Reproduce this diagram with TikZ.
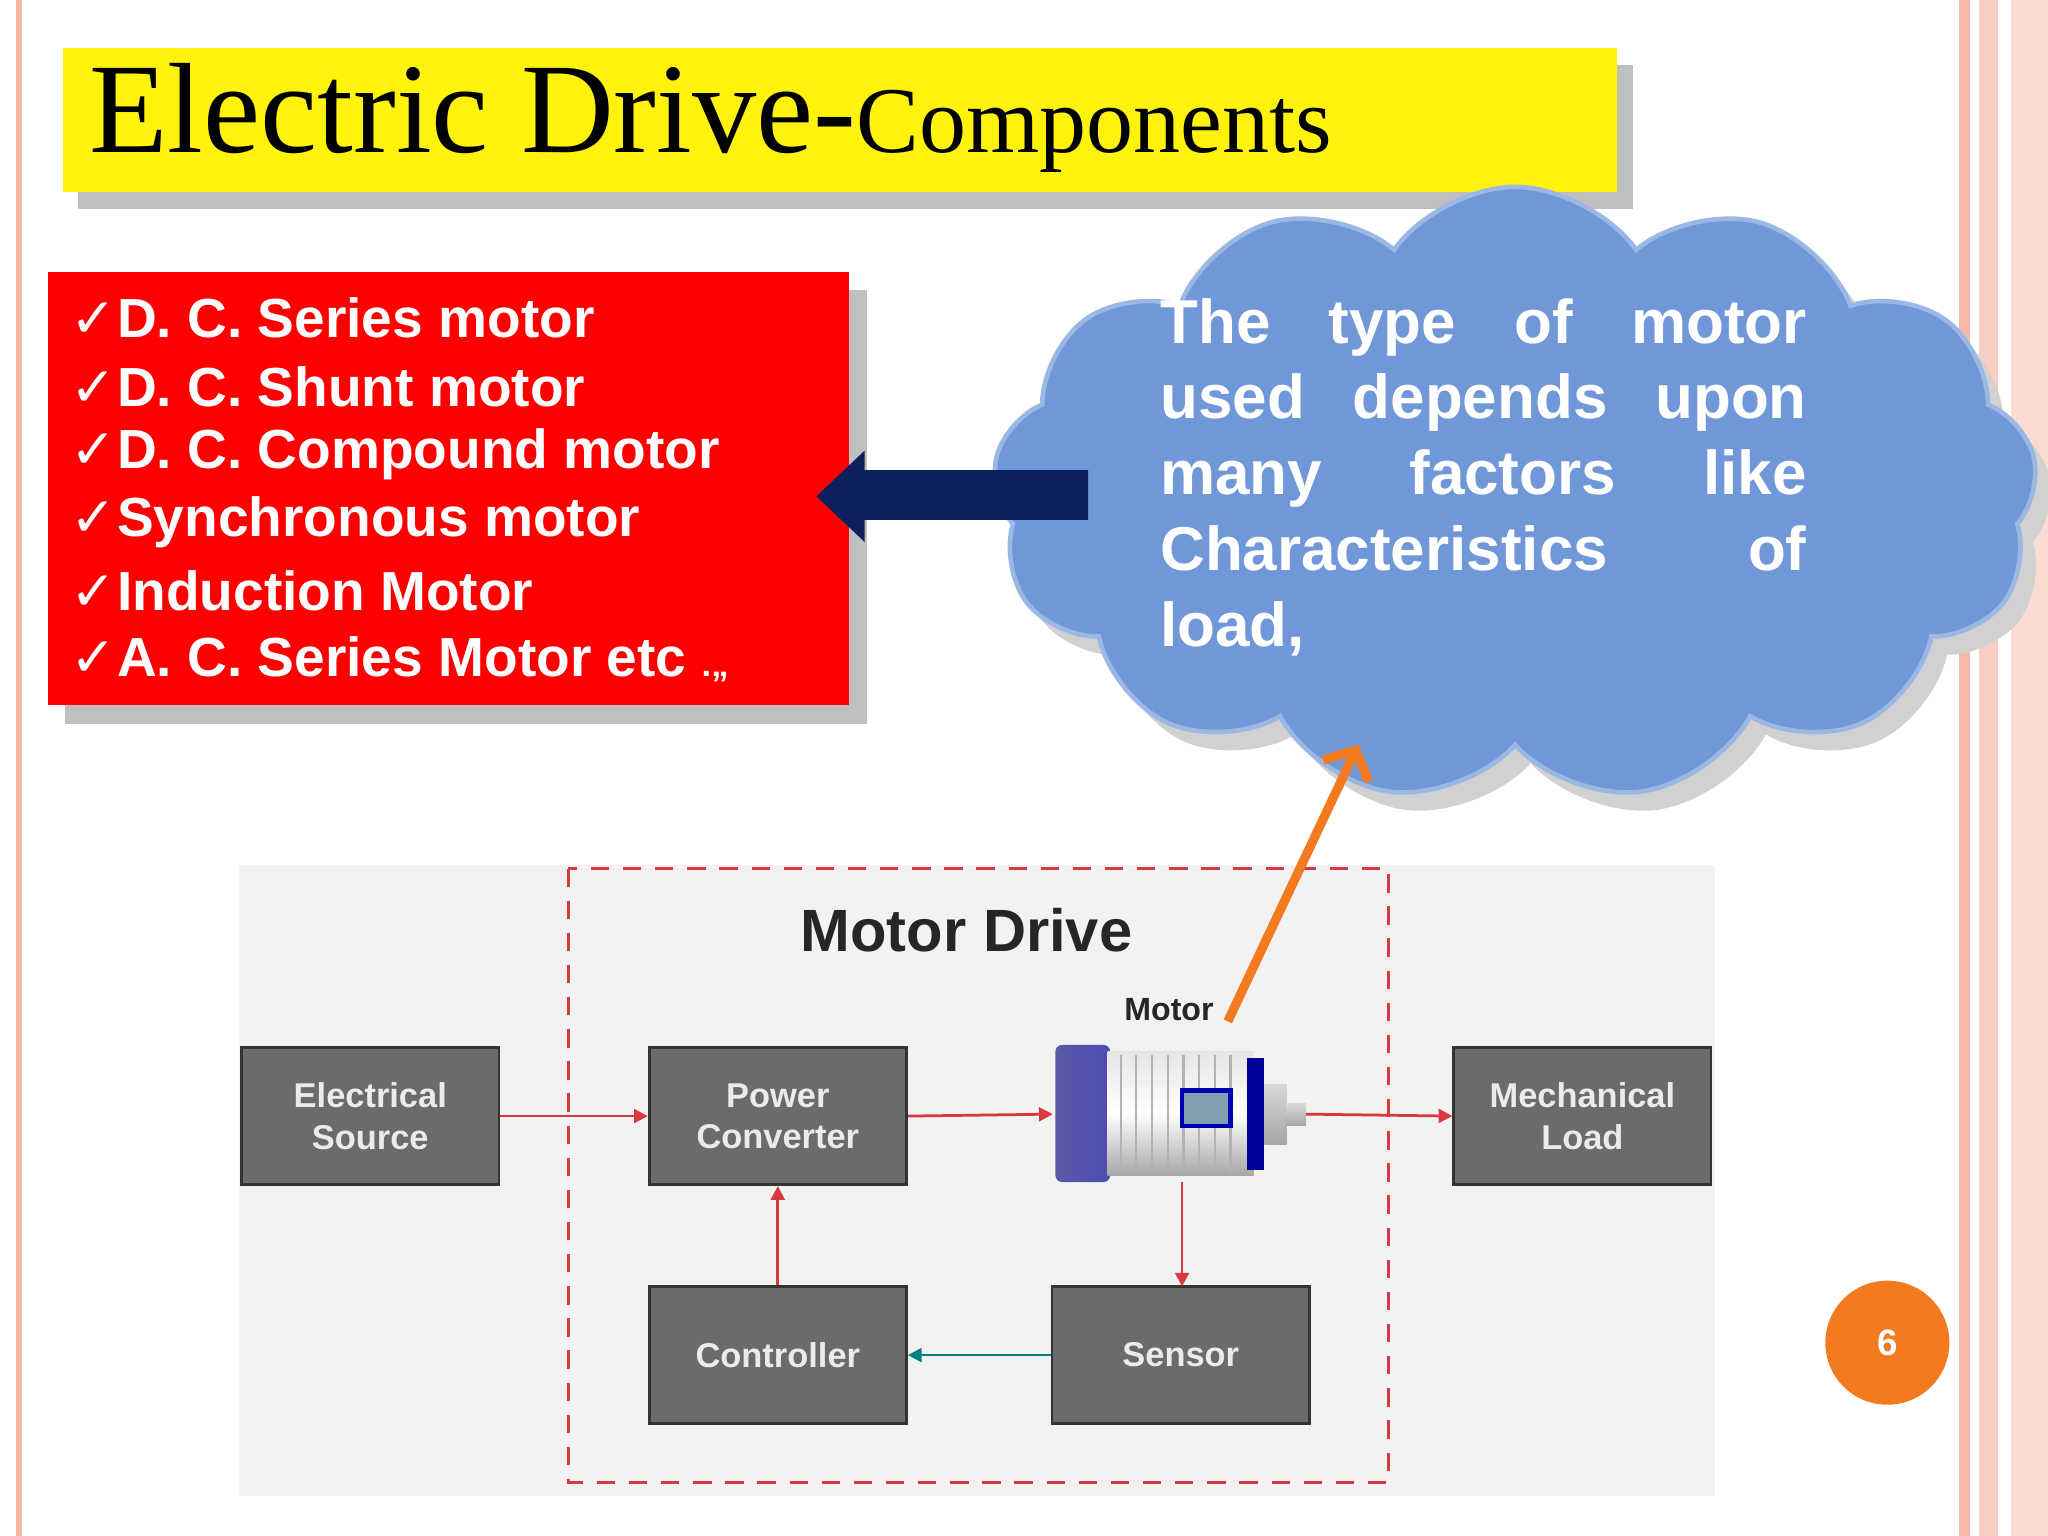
\documentclass[tikz,border=0pt]{standalone}
\usepackage{fontspec}
\setmainfont{Liberation Sans}
\newfontfamily\ser{Liberation Serif}
\newfontfamily\dvs{DejaVu Sans}
\newcommand{\ck}{{\dvs\mdseries ✓}}
\usetikzlibrary{shapes.symbols,arrows.meta,shadows,calc}
\definecolor{cloudb}{HTML}{7098D8}
\definecolor{navy}{HTML}{0A1F5C}
\definecolor{boxg}{HTML}{6B6B6B}
\definecolor{arr}{HTML}{D9383F}
\definecolor{pinkb}{HTML}{F6B9A8}
\definecolor{orng}{HTML}{F47A20}
\tikzset{
 blk/.style={draw=black!80,line width=1.2pt,fill=boxg,text=white!92!black,font=\bfseries\fontsize{15}{18}\selectfont,align=center,minimum width=3.94cm,minimum height=2.1cm,inner sep=0},
 ra/.style={arr,line width=1.2pt,-{Triangle[length=6pt,width=6pt]}},
 redl/.style={text=white,font=\bfseries\fontsize{24}{28}\selectfont,anchor=west,inner sep=0},
}
\begin{document}
\begin{tikzpicture}[x=0.02cm,y=-0.02cm]
\useasboundingbox (0,0) rectangle (1568,1176);
\fill[white] (0,0) rectangle (1568,1176);
% borders
\fill[pinkb] (12,0) rectangle (17,1176);
\fill[pinkb] (1500,0) rectangle (1508,1176);
\fill[pinkb!70] (1515,0) rectangle (1530,1176);
\fill[pinkb!50] (1540,0) rectangle (1568,1176);
% title
\fill[black!25] (60,50) rectangle (1250,160);
\fill[yellow!95!white] (48,37) rectangle (1238,147);
\node[anchor=west,font=\ser\fontsize{56}{60}\selectfont,inner sep=0] (title) at (68,90) {Electric Drive-{\fontsize{41}{45}\selectfont Components}};
% red box
\fill[black!25] (50,222) rectangle (664,554);
\fill[red] (37,208) rectangle (650,540);
\node[redl] (l1) at (54,243) {\ck D. C. Series motor};
\node[redl] (l2) at (54,296) {\ck D. C. Shunt motor};
\node[redl] (l3) at (54,348) {\ck D. C. Compound motor};
\node[redl] (l4) at (54,400) {\ck Synchronous motor};
\node[redl] (l5) at (54,452) {\ck Induction Motor};
\node[redl] (l6) at (54,505) {\ck A. C. Series Motor etc {\fontsize{15}{18}\selectfont .,,}};
% cloud
\node[cloud,cloud puffs=13,cloud puff arc=110,aspect=1.7,fill=black!18,minimum width=16cm,minimum height=9.4cm] at (1172,392) {};
\node[cloud,cloud puffs=13,cloud puff arc=110,aspect=1.7,fill=cloudb,draw=cloudb!70!white,line width=2pt,minimum width=16cm,minimum height=9.4cm] (cl) at (1160,378) {};
\node[text=white,font=\bfseries\fontsize{27}{33}\selectfont,text width=9.9cm,align=justify,anchor=north west,inner sep=0] (ct) at (888,228) {The\hfill type\hfill of\hfill motor\\ used\hfill depends\hfill upon\\ many\hfill factors\hfill like\\ Characteristics\hfill of\\ load,};
% navy arrow
\fill[navy] (833,360) -- (662,360) -- (662,345) -- (625,380) -- (662,415) -- (662,398) -- (833,398) -- cycle;
% panel
\fill[black!5] (183,662) rectangle (1313,1145);
\draw[arr,line width=1.3pt,dash pattern=on 8pt off 6pt] (435,665) rectangle (1063,1135);
\node[font=\bfseries\fontsize{26}{30}\selectfont,text=black!85] (md) at (740,712) {Motor Drive};
\node[font=\bfseries\fontsize{14}{17}\selectfont,text=black!85] (mt) at (895,773) {Motor};
\node[blk] (es) at (283.5,854.5) {Electrical\\Source};
\node[blk] (pc) at (595.5,854.5) {Power\\Converter};
\node[blk] (ml) at (1211.5,854.5) {Mechanical\\Load};
\node[blk] (co) at (595.5,1037.5) {Controller};
\node[blk] (se) at (904,1037.5) {Sensor};
% motor
\shade[left color=blue!30!gray,right color=gray!60!blue,rounded corners=3pt] (808,800) rectangle (850,905);
\shade[top color=gray!20,bottom color=gray!70,middle color=white] (848,805) rectangle (960,900);
\foreach \x in {858,870,...,950}{\draw[gray!60,line width=1pt] (\x,808) -- (\x,897);}
\fill[blue!60!black] (955,810) rectangle (968,896);
\shade[top color=gray!30,bottom color=gray!70] (968,830) rectangle (985,876);
\shade[top color=gray!30,bottom color=gray!70] (985,845) rectangle (1000,862);
\draw[blue!70!black,line width=2pt,fill=cyan!30!gray] (905,835) rectangle (942,862);
\coordinate (mw) at (806,853);
\coordinate (me) at (1000,853);
\coordinate (mb) at (905,905);
\coordinate (st) at (905,985);
\coordinate (oa) at (940,782);
\coordinate (ob) at (1040,570);
% connectors
\draw[ra] (es.east) -- (pc.west);
\draw[ra] (pc.east) -- (mw);
\draw[ra] (me) -- (ml.west);
\draw[ra] (mb) -- (st);
\draw[ra] (co.north) -- (pc.south);
\draw[teal,line width=1.2pt,-{Triangle[length=6pt,width=6pt]}] (se.west) -- (co.east);
% orange arrow
\draw[orng,line width=4pt,-{Straight Barb[length=10pt,width=22pt]}] (oa) -- (ob);
% page number
\node[circle,fill=orng,minimum size=1.9cm,text=white,font=\bfseries\fontsize{16}{19}\selectfont] (pg) at (1445,1028) {6};
\end{tikzpicture}
\end{document}
